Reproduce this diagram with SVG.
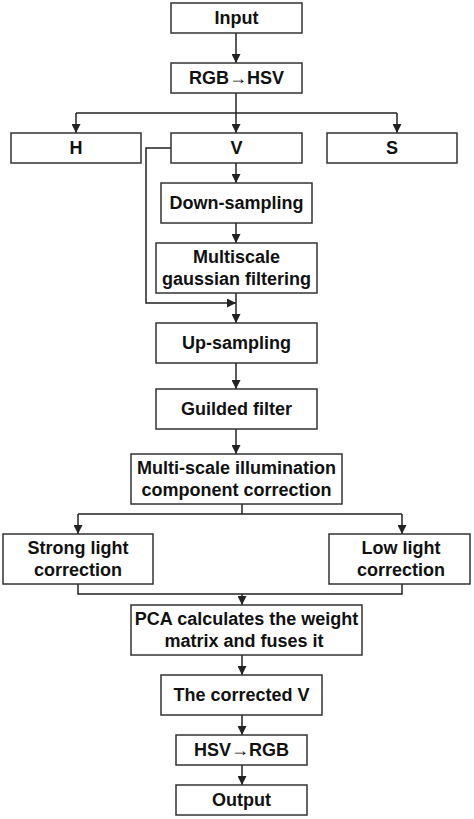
<svg xmlns="http://www.w3.org/2000/svg" width="474" height="819" viewBox="0 0 474 819">
<style>
rect{fill:#fff;stroke:#333;stroke-width:1.5}
text{font-family:"Liberation Sans",Arial,sans-serif;font-weight:bold;font-size:18px;fill:#111;text-anchor:middle}
.c{fill:none;stroke:#222;stroke-width:1.5}
</style>
<defs>
<marker id="ah" markerUnits="userSpaceOnUse" markerWidth="9" markerHeight="9" viewBox="0 0 10 10" refX="10" refY="5" orient="auto">
<path d="M0,0 L10,5 L0,10 z" fill="#222"/>
</marker>
</defs>
<rect width="474" height="819" style="fill:#fff;stroke:none"/>
<g id="connectors">
<path class="c" d="M236,33 V63" marker-end="url(#ah)"/>
<path class="c" d="M236,93 V133" marker-end="url(#ah)"/>
<path class="c" d="M76,113 H397"/>
<path class="c" d="M76,113 V133" marker-end="url(#ah)"/>
<path class="c" d="M397,113 V133" marker-end="url(#ah)"/>
<path class="c" d="M236,163 V183" marker-end="url(#ah)"/>
<path class="c" d="M236,223 V243" marker-end="url(#ah)"/>
<path class="c" d="M171,148 H146 V303 H236" marker-end="url(#ah)"/>
<path class="c" d="M236,293 V323" marker-end="url(#ah)"/>
<path class="c" d="M236,363 V389" marker-end="url(#ah)"/>
<path class="c" d="M236,429 V454" marker-end="url(#ah)"/>
<path class="c" d="M242,504 V514"/>
<path class="c" d="M78,514 H402"/>
<path class="c" d="M78,514 V534" marker-end="url(#ah)"/>
<path class="c" d="M402,514 V534" marker-end="url(#ah)"/>
<path class="c" d="M78,584 V594 H402 V584"/>
<path class="c" d="M242,594 V605" marker-end="url(#ah)"/>
<path class="c" d="M242,655 V675" marker-end="url(#ah)"/>
<path class="c" d="M242,715 V735" marker-end="url(#ah)"/>
<path class="c" d="M242,765 V785" marker-end="url(#ah)"/>
</g>
<g id="input"><rect x="171" y="3" width="131" height="30"/><text x="236.5" y="24">Input</text></g>
<g id="rgb2hsv"><rect x="171" y="63" width="131" height="30"/><text x="236.5" y="84">RGB→HSV</text></g>
<g id="h"><rect x="11" y="133" width="130" height="30"/><text x="76" y="154">H</text></g>
<g id="v"><rect x="171" y="133" width="131" height="30"/><text x="236.5" y="154">V</text></g>
<g id="s"><rect x="327" y="133" width="130" height="30"/><text x="392" y="154">S</text></g>
<g id="down"><rect x="161" y="183" width="151" height="40"/><text x="236.5" y="209">Down-sampling</text></g>
<g id="gauss"><rect x="156" y="243" width="161" height="50"/><text x="236.5" y="263">Multiscale</text><text x="236.5" y="285">gaussian filtering</text></g>
<g id="up"><rect x="156" y="323" width="161" height="40"/><text x="236.5" y="349">Up-sampling</text></g>
<g id="guided"><rect x="156" y="389" width="161" height="40"/><text x="236.5" y="415">Guilded filter</text></g>
<g id="multi"><rect x="131" y="454" width="211" height="50"/><text x="236.5" y="474">Multi-scale illumination</text><text x="236.5" y="496">component correction</text></g>
<g id="strong"><rect x="3" y="534" width="150" height="50"/><text x="78" y="554">Strong light</text><text x="78" y="576">correction</text></g>
<g id="low"><rect x="329" y="534" width="141" height="50"/><text x="401" y="554">Low light</text><text x="401" y="576">correction</text></g>
<g id="pca"><rect x="131" y="605" width="231" height="50"/><text x="246.5" y="625">PCA calculates the weight</text><text x="244" y="647">matrix and fuses it</text></g>
<g id="corrected"><rect x="161" y="675" width="161" height="40"/><text x="241.5" y="701">The corrected V</text></g>
<g id="hsv2rgb"><rect x="176" y="735" width="131" height="30"/><text x="241.5" y="756">HSV→RGB</text></g>
<g id="output"><rect x="176" y="785" width="131" height="30"/><text x="241.5" y="806">Output</text></g>
</svg>
